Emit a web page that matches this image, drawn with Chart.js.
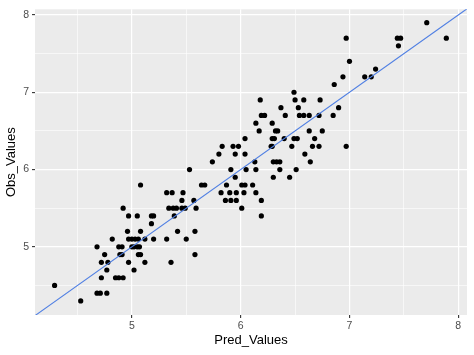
<!DOCTYPE html>
<html>
<head>
<meta charset="utf-8">
<script src="https://cdn.jsdelivr.net/npm/chart.js@4.4.1/dist/chart.umd.min.js"></script>
<style>
html,body{margin:0;padding:0;background:#ffffff;}
#c{display:block;}
</style>
</head>
<body>
<canvas id="c" width="474" height="355"></canvas>
<script>
const obsValues = [
  4.3,
  4.4,4.4,4.4,
  4.5,
  4.6,4.6,4.6,4.6,
  4.7,4.7,
  4.8,4.8,4.8,4.8,4.8,
  4.9,4.9,4.9,4.9,4.9,4.9,
  5.0,5.0,5.0,5.0,5.0,5.0,5.0,
  5.1,5.1,5.1,5.1,5.1,5.1,5.1,5.1,5.1,
  5.2,5.2,5.2,5.2,
  5.3,
  5.4,5.4,5.4,5.4,5.4,5.4,
  5.5,5.5,5.5,5.5,5.5,5.5,5.5,5.5,
  5.6,5.6,5.6,5.6,5.6,5.6,
  5.7,5.7,5.7,5.7,5.7,5.7,5.7,5.7,
  5.8,5.8,5.8,5.8,5.8,5.8,5.8,
  5.9,5.9,5.9,
  6.0,6.0,6.0,6.0,6.0,6.0,
  6.1,6.1,6.1,6.1,6.1,6.1,
  6.2,6.2,6.2,6.2,
  6.3,6.3,6.3,6.3,6.3,6.3,6.3,6.3,6.3,
  6.4,6.4,6.4,6.4,6.4,6.4,6.4,
  6.5,6.5,6.5,6.5,6.5,
  6.6,6.6,
  6.7,6.7,6.7,6.7,6.7,6.7,6.7,6.7,
  6.8,6.8,6.8,
  6.9,6.9,6.9,6.9,
  7.0,
  7.1,
  7.2,7.2,7.2,
  7.3,
  7.4,
  7.6,
  7.7,7.7,7.7,7.7,
  7.9
];
const predValues = [
  4.53,
  4.68,4.71,4.77,
  4.29,
  4.72,4.85,4.88,4.92,
  4.77,5.02,
  4.72,4.78,4.97,5.12,5.36,
  4.75,4.89,4.91,5.06,5.08,5.58,
  4.68,4.88,4.91,5.00,5.02,5.05,5.07,
  4.82,4.97,5.00,5.03,5.06,5.12,5.20,5.32,5.50,
  4.96,5.08,5.42,5.58,
  5.18,
  4.97,5.05,5.18,5.20,5.39,6.19,
  4.92,5.34,5.38,5.41,5.46,5.49,5.59,6.01,
  5.46,5.57,5.86,5.91,5.96,6.19,
  5.32,5.37,5.47,5.82,5.90,5.96,6.03,6.14,
  5.08,5.64,5.67,5.87,6.01,6.04,6.11,
  5.95,6.30,6.45,
  5.53,5.91,6.05,6.14,6.36,6.51,
  5.74,6.13,6.30,6.33,6.36,6.64,
  5.80,5.95,6.04,6.59,
  5.83,5.93,5.98,6.28,6.29,6.47,6.66,6.72,6.97,
  6.04,6.29,6.31,6.40,6.49,6.52,6.68,
  6.17,6.32,6.34,6.63,6.75,
  6.14,6.29,
  6.19,6.22,6.41,6.54,6.58,6.63,6.72,6.85,
  6.37,6.53,6.90,
  6.18,6.50,6.58,6.73,
  6.49,
  6.86,
  6.94,7.14,7.20,
  7.24,
  7.00,
  7.45,
  6.97,7.44,7.47,7.89,
  7.71
];
// Reference line y = x spanning the panel
const lineRange = [4.11, 8.08];
// Axis ranges and ticks
const xRange = [4.11, 8.08];
const yRange = [4.118, 8.073];
const xTickValues = [4.5, 5, 5.5, 6, 6.5, 7, 7.5, 8];
const yTickValues = [4.5, 5, 5.5, 6, 6.5, 7, 7.5, 8];
const xTitle = 'Pred_Values';
const yTitle = 'Obs_Values';

const scatterPoints = predValues.map((p, i) => ({x: p, y: obsValues[i]}));
const linePoints = lineRange.map(v => ({x: v, y: v}));

const isMajor = v => Math.abs(v - Math.round(v)) < 1e-9;
const FONT = "'Liberation Sans', Arial, Helvetica, sans-serif";

const panelBg = {
  id: 'panelBg',
  beforeDraw(chart) {
    const {ctx, chartArea: a} = chart;
    ctx.save();
    ctx.fillStyle = '#EBEBEB';
    ctx.fillRect(a.left, a.top, a.right - a.left, a.bottom - a.top);
    ctx.restore();
  }
};

function gridOpts() {
  return {
    drawOnChartArea: true,
    drawTicks: true,
    tickLength: 3,
    color: ctx => '#FFFFFF',
    lineWidth: ctx => (ctx.tick && isMajor(ctx.tick.value)) ? 1.2 : 0.6,
    tickColor: ctx => (ctx.tick && isMajor(ctx.tick.value)) ? '#333333' : 'rgba(0,0,0,0)',
    tickWidth: ctx => (ctx.tick && isMajor(ctx.tick.value)) ? 1.1 : 0
  };
}

new Chart(document.getElementById('c'), {
  data: {
    datasets: [
      {
        type: 'line',
        data: linePoints,
        borderColor: '#4F7FE3',
        borderWidth: 1.1,
        pointRadius: 0,
        fill: false,
        tension: 0
      },
      {
        type: 'scatter',
        data: scatterPoints,
        backgroundColor: '#000000',
        borderWidth: 0,
        pointRadius: 2.6,
        pointHoverRadius: 2.6
      }
    ]
  },
  options: {
    responsive: false,
    animation: false,
    events: [],
    layout: {padding: {left: 0, top: 7, right: 7, bottom: 0}},
    plugins: {legend: {display: false}, tooltip: {enabled: false}},
    scales: {
      x: {
        type: 'linear',
        position: 'bottom',
        min: xRange[0],
        max: xRange[1],
        afterBuildTicks: s => { s.ticks = xTickValues.map(v => ({value: v})); },
        afterFit: s => { s.height = 40; },
        border: {display: false},
        grid: gridOpts(),
        ticks: {
          autoSkip: false,
          maxRotation: 0,
          padding: 2,
          color: '#4D4D4D',
          font: {family: FONT, size: 10.5},
          callback: v => isMajor(v) ? String(Math.round(v)) : ''
        },
        title: {
          display: true,
          text: xTitle,
          color: '#000000',
          font: {family: FONT, size: 13},
          padding: {top: 0, bottom: 7}
        }
      },
      y: {
        type: 'linear',
        position: 'left',
        min: yRange[0],
        max: yRange[1],
        afterBuildTicks: s => { s.ticks = yTickValues.map(v => ({value: v})); },
        afterFit: s => { s.width = 35; },
        border: {display: false},
        grid: gridOpts(),
        ticks: {
          autoSkip: false,
          padding: 3,
          color: '#4D4D4D',
          font: {family: FONT, size: 10.5},
          callback: v => isMajor(v) ? String(Math.round(v)) : ''
        },
        title: {
          display: true,
          text: yTitle,
          color: '#000000',
          font: {family: FONT, size: 13},
          padding: {top: 4, bottom: 0}
        }
      }
    }
  },
  plugins: [panelBg]
});
</script>
</body>
</html>
